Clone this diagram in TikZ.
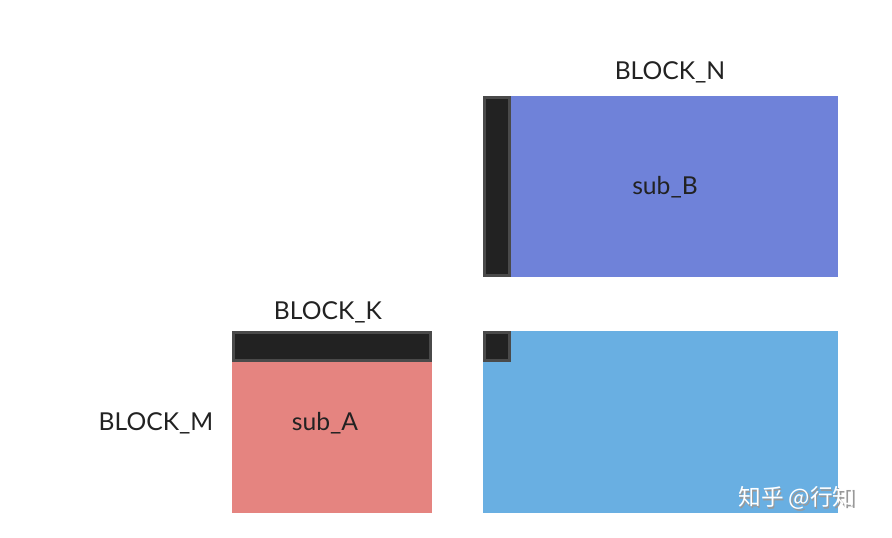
\documentclass[tikz,border=0pt]{standalone}
\usepackage{fontspec}
\setmainfont{Lato}
\newfontfamily\cjk{Noto Sans CJK SC}
\definecolor{cpur}{HTML}{6F82D9}
\definecolor{cred}{HTML}{E58480}
\definecolor{cblu}{HTML}{69AFE2}
\definecolor{cdark}{HTML}{222222}
\definecolor{cedge}{HTML}{4A4A4A}
\definecolor{ctxt}{HTML}{222222}
\begin{document}
\begin{tikzpicture}[x=0.75pt,y=-0.75pt,
  blk/.style={draw=none,inner sep=0},
  darkbox/.style={fill=cdark,draw=cedge,line width=2.2pt},
  lbl/.style={text=ctxt,font=\fontsize{18.5pt}{20pt}\selectfont,inner sep=0}]
\useasboundingbox (0,0) rectangle (892,538);
% blocks
\fill[cpur] (483,96) rectangle (838,277);
\draw[darkbox] (484.5,97.5) rectangle (509.5,275.5);
\fill[cred] (232,331) rectangle (432,513);
\draw[darkbox] (233.5,332.5) rectangle (430.5,360.5);
\fill[cblu] (483,331) rectangle (838,513);
\draw[darkbox] (484.5,332.5) rectangle (509.5,360.5);
% labels
\node[lbl] (n) at (670,72) {BLOCK\_N};
\node[lbl] (b) at (665,187) {sub\_B};
\node[lbl] (k) at (328,312) {BLOCK\_K};
\node[lbl] (m) at (156,423) {BLOCK\_M};
\node[lbl] (a) at (325,423) {sub\_A};
\node[font=\cjk\fontsize{17pt}{18pt}\selectfont,text=black!40,inner sep=0] at (798.5,499.5) {知乎 @行知};
\node[font=\cjk\fontsize{17pt}{18pt}\selectfont,text=white,inner sep=0] (w) at (797,498) {知乎 @行知};
\end{tikzpicture}
\end{document}
